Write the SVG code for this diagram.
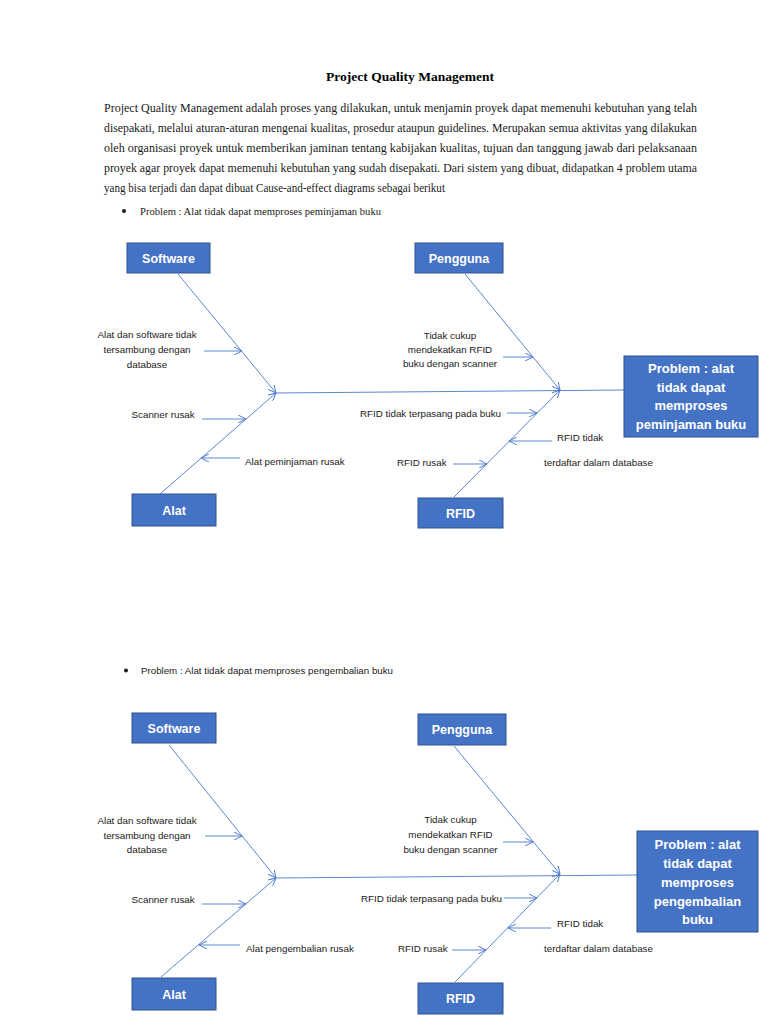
<svg xmlns="http://www.w3.org/2000/svg" width="768" height="1024" viewBox="0 0 768 1024">
<style>
.bg{fill:#ffffff}
.title{font-family:"Liberation Serif",serif;font-size:13.5px;font-weight:bold;fill:#000}
.para{font-family:"Liberation Serif",serif;font-size:12.5px;fill:#1a1a1a}
.bul{font-family:"Liberation Serif",serif;font-size:10.5px;fill:#1a1a1a}
.bul2{font-family:"Liberation Sans",Arial,sans-serif;font-size:9.5px;fill:#1a1a1a}
.box{fill:#4472C4;stroke:#2F528F;stroke-width:1}
.bt{font-family:"Liberation Sans",Arial,sans-serif;font-size:12.5px;font-weight:bold;fill:#ffffff;text-anchor:middle}
.pt{font-family:"Liberation Sans",Arial,sans-serif;font-size:13px;font-weight:bold;fill:#ffffff;text-anchor:middle}
.lbl{font-family:"Liberation Sans",Arial,sans-serif;font-size:9.8px;fill:#1a1a1a}
.c{text-anchor:middle}
.ln{stroke:#4A78CC;stroke-width:0.9;fill:none}
.ar{stroke:#4A78CC;stroke-width:0.9;fill:none;marker-end:url(#arr)}
</style>
<defs>
<marker id="arr" viewBox="0 0 10 10" refX="10" refY="5" markerWidth="8" markerHeight="8" orient="auto" markerUnits="userSpaceOnUse">
<path d="M0,0 L10,5 L0,10" fill="none" stroke="#4A78CC" stroke-width="1.2"/>
</marker>
</defs>
<rect class="bg" x="0" y="0" width="768" height="1024"/>

<g id="header">
<text class="title" x="410" y="81" text-anchor="middle" textLength="168" lengthAdjust="spacingAndGlyphs">Project Quality Management</text>
<text class="para" x="104" y="112" textLength="593" lengthAdjust="spacingAndGlyphs">Project Quality Management adalah proses yang dilakukan, untuk menjamin proyek dapat memenuhi kebutuhan yang telah</text>
<text class="para" x="104" y="132" textLength="593" lengthAdjust="spacingAndGlyphs">disepakati, melalui aturan-aturan mengenai kualitas, prosedur ataupun guidelines. Merupakan semua aktivitas yang dilakukan</text>
<text class="para" x="104" y="152" textLength="593" lengthAdjust="spacingAndGlyphs">oleh organisasi proyek untuk memberikan jaminan tentang kabijakan kualitas, tujuan dan tanggung jawab dari pelaksanaan</text>
<text class="para" x="104" y="172" textLength="593" lengthAdjust="spacingAndGlyphs">proyek agar proyek dapat memenuhi kebutuhan yang sudah disepakati. Dari sistem yang dibuat, didapatkan 4 problem utama</text>
<text class="para" x="104" y="192" textLength="341" lengthAdjust="spacingAndGlyphs">yang bisa terjadi dan dapat dibuat Cause-and-effect diagrams sebagai berikut</text>
<circle cx="124" cy="211" r="2" fill="#1a1a1a"/>
<text class="bul" x="140" y="214.5" textLength="241" lengthAdjust="spacingAndGlyphs">Problem : Alat tidak dapat memproses peminjaman buku</text>
<circle cx="126" cy="670.5" r="2" fill="#1a1a1a"/>
<text class="bul2" x="141" y="674" textLength="252" lengthAdjust="spacingAndGlyphs">Problem : Alat tidak dapat memproses pengembalian buku</text>
</g>

<!-- Diagram 1 connectors -->
<g id="connectors1">
<line class="ar" x1="178" y1="274" x2="276" y2="393"/>
<line class="ar" x1="160" y1="494" x2="276" y2="393"/>
<line class="ln" x1="276" y1="393" x2="624" y2="390"/>
<line class="ar" x1="465" y1="274" x2="560" y2="390"/>
<line class="ar" x1="454" y1="497" x2="560" y2="390"/>
<line class="ar" x1="204" y1="351" x2="242" y2="351"/>
<line class="ar" x1="202" y1="419" x2="246" y2="419"/>
<line class="ar" x1="240" y1="458" x2="201" y2="458"/>
<line class="ar" x1="503" y1="357" x2="533" y2="357"/>
<line class="ar" x1="507" y1="413" x2="537" y2="413"/>
<line class="ar" x1="552" y1="441" x2="509" y2="441"/>
<line class="ar" x1="453" y1="464" x2="487" y2="464"/>
</g>

<g id="d1-software"><rect class="box" x="127" y="243" width="83" height="30"/><text class="bt" x="168.5" y="262.5">Software</text></g>
<g id="d1-pengguna"><rect class="box" x="415" y="243" width="88" height="30"/><text class="bt" x="459" y="262.5">Pengguna</text></g>
<g id="d1-alat"><rect class="box" x="132" y="494" width="84" height="32"/><text class="bt" x="174" y="514.5">Alat</text></g>
<g id="d1-rfid"><rect class="box" x="418" y="498" width="85" height="30"/><text class="bt" x="460.5" y="517.5">RFID</text></g>
<g id="d1-problem"><rect class="box" x="624" y="356" width="134" height="81"/>
<text class="pt" x="691" y="372.5">Problem : alat</text>
<text class="pt" x="691" y="391.5">tidak dapat</text>
<text class="pt" x="691" y="409.5">memproses</text>
<text class="pt" x="691" y="428.5">peminjaman buku</text></g>

<g id="d1-labels">
<text class="lbl c" x="147" y="338">Alat dan software tidak</text>
<text class="lbl c" x="147" y="353">tersambung dengan</text>
<text class="lbl c" x="147" y="368">database</text>
<text class="lbl" x="131.5" y="418">Scanner rusak</text>
<text class="lbl" x="245" y="465">Alat peminjaman rusak</text>
<text class="lbl c" x="450" y="338.5">Tidak cukup</text>
<text class="lbl c" x="450" y="352.5">mendekatkan RFID</text>
<text class="lbl c" x="450" y="366.5">buku dengan scanner</text>
<text class="lbl" x="360" y="416.5">RFID tidak terpasang pada buku</text>
<text class="lbl" x="557" y="441">RFID tidak</text>
<text class="lbl" x="397" y="465.5">RFID rusak</text>
<text class="lbl" x="544" y="465.5">terdaftar dalam database</text>
</g>

<!-- Diagram 2 connectors -->
<g id="connectors2">
<line class="ar" x1="169" y1="745" x2="276" y2="878"/>
<line class="ar" x1="161" y1="977" x2="276" y2="878"/>
<line class="ln" x1="276" y1="878" x2="637" y2="875"/>
<line class="ar" x1="454" y1="746" x2="560" y2="874"/>
<line class="ar" x1="455" y1="982" x2="560" y2="874"/>
<line class="ar" x1="205" y1="836" x2="242" y2="836"/>
<line class="ar" x1="202" y1="904" x2="246" y2="904"/>
<line class="ar" x1="240" y1="945" x2="199" y2="945"/>
<line class="ar" x1="503" y1="842" x2="533" y2="842"/>
<line class="ar" x1="504" y1="898" x2="537" y2="898"/>
<line class="ar" x1="551" y1="928" x2="508" y2="928"/>
<line class="ar" x1="452" y1="950" x2="486" y2="950"/>
</g>

<g id="d2-software"><rect class="box" x="132" y="713" width="84" height="30"/><text class="bt" x="174" y="732.5">Software</text></g>
<g id="d2-pengguna"><rect class="box" x="418" y="714" width="88" height="31"/><text class="bt" x="462" y="734">Pengguna</text></g>
<g id="d2-alat"><rect class="box" x="132" y="978" width="84" height="32"/><text class="bt" x="174" y="998.5">Alat</text></g>
<g id="d2-rfid"><rect class="box" x="418" y="983" width="85" height="31"/><text class="bt" x="460.5" y="1003">RFID</text></g>
<g id="d2-problem"><rect class="box" x="637" y="831" width="121" height="101"/>
<text class="pt" x="697.5" y="848.5">Problem : alat</text>
<text class="pt" x="697.5" y="867.5">tidak dapat</text>
<text class="pt" x="697.5" y="886.5">memproses</text>
<text class="pt" x="697.5" y="905.5">pengembalian</text>
<text class="pt" x="697.5" y="924">buku</text></g>

<g id="d2-labels">
<text class="lbl c" x="147" y="823.5">Alat dan software tidak</text>
<text class="lbl c" x="147" y="838.5">tersambung dengan</text>
<text class="lbl c" x="147" y="852.5">database</text>
<text class="lbl" x="131.5" y="902.5">Scanner rusak</text>
<text class="lbl" x="246" y="951.5">Alat pengembalian rusak</text>
<text class="lbl c" x="450.5" y="822.5">Tidak cukup</text>
<text class="lbl c" x="450.5" y="838">mendekatkan RFID</text>
<text class="lbl c" x="450.5" y="852.5">buku dengan scanner</text>
<text class="lbl" x="361" y="901.5">RFID tidak terpasang pada buku</text>
<text class="lbl" x="557" y="926.5">RFID tidak</text>
<text class="lbl" x="398" y="951.5">RFID rusak</text>
<text class="lbl" x="544" y="951.5">terdaftar dalam database</text>
</g>
</svg>
